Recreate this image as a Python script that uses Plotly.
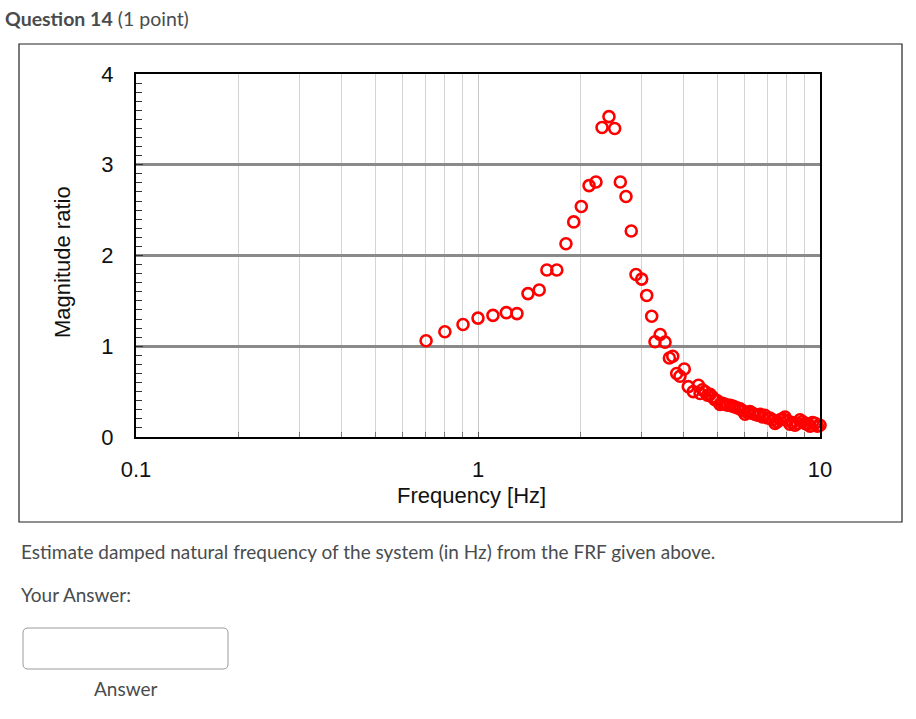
import plotly.graph_objects as go

# ---- data ----
freq_hz = [0.705, 0.80, 0.904, 1.00, 1.106, 1.21, 1.30, 1.40, 1.51, 1.59, 1.70,
           1.808, 1.905, 2.005, 2.112, 2.213, 2.305, 2.415, 2.51, 2.607, 2.708, 2.806,
           2.897, 3.01, 3.114, 3.22, 3.292, 3.41, 3.523, 3.627, 3.71, 3.81, 3.896, 4.01,
           4.12, 4.26, 4.41,
           4.46, 4.53, 4.61, 4.69, 4.77, 4.85, 4.93, 5.01, 5.10, 5.19, 5.28, 5.37,
           5.46, 5.55, 5.64, 5.74, 5.84, 5.94, 6.04, 6.14, 6.24, 6.35, 6.45, 6.57,
           6.68, 6.79, 6.90, 7.02, 7.14, 7.26, 7.39, 7.51, 7.64, 7.77, 7.90, 8.03,
           8.17, 8.31, 8.45, 8.59, 8.74, 8.89, 9.04, 9.19, 9.35, 9.51, 9.67, 9.83, 10.0]
magnitude = [1.06, 1.16, 1.24, 1.31, 1.34, 1.37, 1.36, 1.58, 1.62, 1.84, 1.84,
             2.13, 2.37, 2.54, 2.77, 2.81, 3.41, 3.53, 3.40, 2.81, 2.65, 2.27,
             1.79, 1.74, 1.56, 1.33, 1.05, 1.13, 1.045, 0.87, 0.89, 0.70, 0.67, 0.75,
             0.555, 0.50, 0.57,
             0.48, 0.52, 0.50, 0.46, 0.47, 0.44, 0.41, 0.40, 0.36, 0.37, 0.36, 0.35,
             0.35, 0.34, 0.33, 0.32, 0.31, 0.29, 0.25, 0.27, 0.28, 0.26, 0.25, 0.24,
             0.25, 0.22, 0.24, 0.21, 0.21, 0.19, 0.15, 0.17, 0.19, 0.20, 0.22, 0.18,
             0.14, 0.16, 0.13, 0.15, 0.19, 0.17, 0.15, 0.14, 0.12, 0.16, 0.15, 0.12, 0.13]

y_ticks = [0, 1, 2, 3, 4]
x_ticks = [0.1, 1, 10]
x_tick_labels = ["0.1", "1", "10"]
x_minor = [0.2, 0.3, 0.4, 0.5, 0.6, 0.7, 0.8, 0.9, 2, 3, 4, 5, 6, 7, 8, 9]

x_title = "Frequency [Hz]"
y_title = "Magnitude ratio"
question = "<b>Question 14</b> (1 point)"
prompt = "Estimate damped natural frequency of the system (in Hz) from the FRF given above."
answer_label = "Your Answer:"
answer_hint = "Answer"

# ---- layout geometry (pixels) ----
W, H = 916, 719
L, R, T, B = 136, 820, 74, 437
PW, PH = R - L, B - T


def px(x):
    return (x - L) / PW


def py(y):
    return (B - y) / PH


NARROW = "Liberation Sans Narrow, Arial Narrow, Liberation Sans, sans-serif"
LATO = "Lato, sans-serif"
TXT = "#494c4e"

fig = go.Figure()
fig.add_trace(go.Scatter(
    x=freq_hz, y=magnitude, mode="markers",
    marker=dict(symbol="circle-open", size=11, color="#ff0000",
                line=dict(width=2.6, color="#ff0000")),
    showlegend=False, hoverinfo="x+y", cliponaxis=False,
))

fig.update_layout(
    width=W, height=H,
    margin=dict(l=L, r=W - R, t=T, b=H - B, pad=0),
    paper_bgcolor="white", plot_bgcolor="white",
    font=dict(family=NARROW, size=22, color="#111"),
    xaxis=dict(
        type="log", range=[-1, 1], tickvals=x_ticks, ticktext=x_tick_labels,
        showline=True, linecolor="black", linewidth=2, mirror=True,
        ticks="inside", ticklen=5, tickcolor="#555", tickwidth=1,
        showgrid=True, gridcolor="#c8c8c8", gridwidth=1, zeroline=False,
        ticklabelstandoff=12,
        minor=dict(tickvals=x_minor, ticks="inside", ticklen=5, tickcolor="#777",
                   showgrid=True, gridcolor="#d4d4d4", gridwidth=1),
        tickfont=dict(family=NARROW, size=22, color="#111"),
    ),
    yaxis=dict(
        range=[0, 4], tickvals=y_ticks,
        showline=True, linecolor="black", linewidth=2, mirror=True,
        ticks="inside", ticklen=7, tickcolor="#333", tickwidth=1,
        showgrid=True, gridcolor="#8a8a8a", gridwidth=3, zeroline=False,
        ticklabelstandoff=16,
        minor=dict(dtick=0.1, ticks="inside", ticklen=6, tickcolor="#333",
                   showgrid=False),
        tickfont=dict(family=NARROW, size=22, color="#111"),
    ),
)

annotations = [
    dict(text=x_title, x=px(471), y=py(495), xanchor="center", yanchor="middle",
         font=dict(family=NARROW, size=22, color="#111")),
    dict(text=y_title, x=px(62), y=py(262), xanchor="center", yanchor="middle",
         textangle=-90, font=dict(family=NARROW, size=22, color="#111")),
    dict(text=question, x=px(3), y=py(18), xanchor="left", yanchor="middle",
         font=dict(family=LATO, size=19.5, color=TXT)),
    dict(text=prompt, x=px(19), y=py(551), xanchor="left", yanchor="middle",
         font=dict(family=LATO, size=19, color=TXT)),
    dict(text=answer_label, x=px(19), y=py(594), xanchor="left", yanchor="middle",
         font=dict(family=LATO, size=19, color=TXT)),
    dict(text=answer_hint, x=px(125), y=py(688), xanchor="center", yanchor="middle",
         font=dict(family=LATO, size=19, color=TXT)),
]
for a in annotations:
    a.update(xref="paper", yref="paper", showarrow=False)
fig.update_layout(annotations=annotations)

# outer chart frame
shapes = [dict(type="rect", xref="paper", yref="paper",
               x0=px(19), x1=px(902), y0=py(522), y1=py(44),
               line=dict(color="#222", width=1.2), layer="below")]

# rounded answer box
x0, x1, y0, y1, r = 23, 228, 628, 669, 5
path = (f"M {px(x0 + r)},{py(y0)} L {px(x1 - r)},{py(y0)} "
        f"Q {px(x1)},{py(y0)} {px(x1)},{py(y0 + r)} "
        f"L {px(x1)},{py(y1 - r)} Q {px(x1)},{py(y1)} {px(x1 - r)},{py(y1)} "
        f"L {px(x0 + r)},{py(y1)} Q {px(x0)},{py(y1)} {px(x0)},{py(y1 - r)} "
        f"L {px(x0)},{py(y0 + r)} Q {px(x0)},{py(y0)} {px(x0 + r)},{py(y0)} Z")
shapes.append(dict(type="path", xref="paper", yref="paper", path=path,
                   line=dict(color="#9a9a9a", width=1)))
fig.update_layout(shapes=shapes)

fig.write_html("out.html", config={"displayModeBar": False})
